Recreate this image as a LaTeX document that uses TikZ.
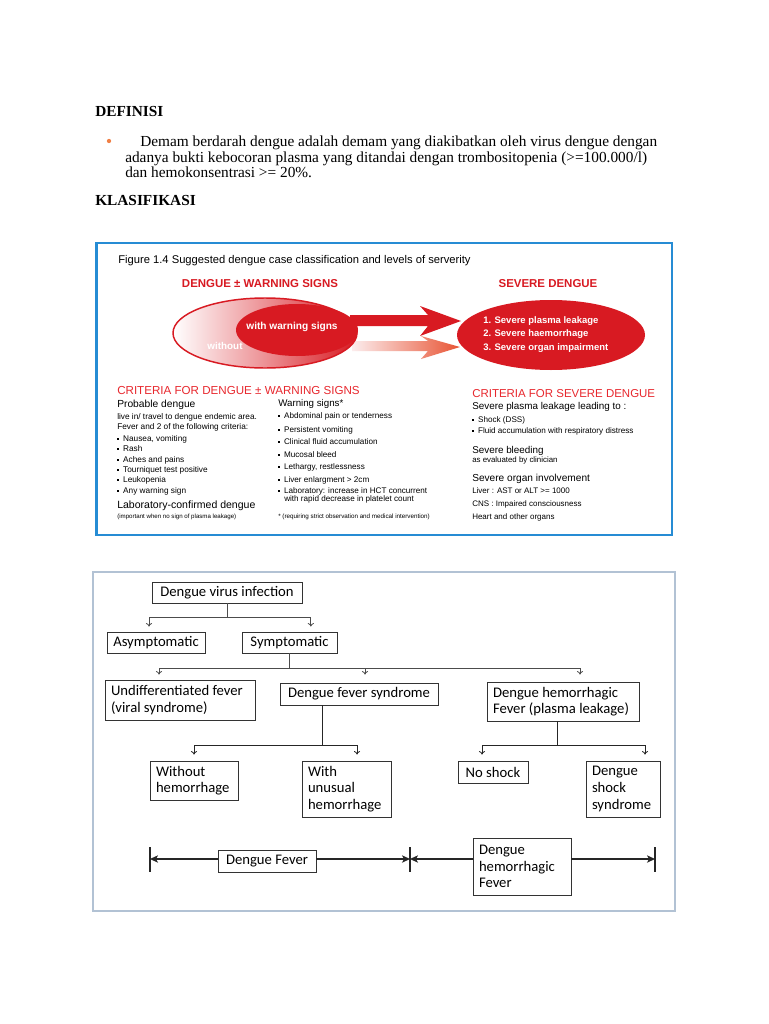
\documentclass[tikz,border=0pt]{standalone}
\usepackage{fontspec}
\usepackage{tikz}
\usetikzlibrary{arrows.meta}
\setmainfont{Liberation Serif}
\newfontfamily\figfont{Liberation Sans}
\newfontfamily\boxfont{Carlito}
\definecolor{dred}{RGB}{216,26,34}
\definecolor{cred}{RGB}{232,40,46}
\definecolor{ored}{RGB}{232,84,52}
\definecolor{figblue}{RGB}{38,140,212}
\definecolor{framegray}{RGB}{178,194,212}
\definecolor{dotorange}{RGB}{240,128,70}
\newcommand\blt{\rule[0.25ex]{0.5ex}{0.5ex}\hspace{0.45em}}

\begin{document}
\begin{tikzpicture}[x=0.75pt,y=-0.75pt,
  txt/.style={anchor=base west,inner sep=0pt,font=\fontsize{11.5}{11.5}\selectfont},
  fig/.style={anchor=base west,inner sep=0pt,font=\figfont\fontsize{#1}{#1}\selectfont},
  figb/.style={fig=#1,font=\figfont\bfseries\fontsize{#1}{#1}\selectfont},
  box/.style={draw=black!80,line width=0.7pt,inner xsep=4.5pt,inner ysep=0pt,
    font=\boxfont\fontsize{11}{12.5}\selectfont},
  downarr/.style={draw=black!70,line width=0.6pt,-{To[length=2.6pt,width=4.6pt]}},
  rangearr/.style={draw=black!85,line width=0.8pt,-{Stealth[length=6pt,width=5.5pt,inset=1.5pt]}}]
  \useasboundingbox (0,0) rectangle (768,1024);
  \fill[white] (0,0) rectangle (768,1024);

  \node[txt,font=\bfseries\fontsize{11.5}{11.5}\selectfont] (defhead) at (95,116) {DEFINISI};
  \fill[dotorange] (109,141) circle (1.6pt);
  \node[txt] (defa) at (140,146) {Demam berdarah dengue adalah demam yang diakibatkan oleh virus dengue dengan};
  \node[txt] (defb) at (125,162) {adanya bukti kebocoran plasma yang ditandai dengan trombositopenia (>=100.000/l)};
  \node[txt] (defc) at (125,177) {dan hemokonsentrasi >= 20\%.};
  \node[txt,font=\bfseries\fontsize{11.5}{11.5}\selectfont] (klashead) at (95,205) {KLASIFIKASI};

  \draw[figblue,line width=1.8pt] (96,243) rectangle (672,535);
  \draw[figblue,line width=1.2pt] (97.5,243) -- (97.5,535);
  \node[fig=8.4] (figcap) at (118,263) {Figure 1.4 Suggested dengue case classification and levels of serverity};
  \node[figb=8.6,text=dred,anchor=base] (dwhead) at (260,287) {DENGUE ± WARNING SIGNS};
  \node[figb=8.6,text=dred,anchor=base] (sdhead) at (548,287) {SEVERE DENGUE};

  \fill[dred] (350,315) -- (428,315) -- (420,306) -- (461,321) -- (420,336) -- (428,326) -- (350,326) -- cycle;
  \shade[left color=dred!8,right color=ored] (352,341) -- (428,341) -- (421,336) -- (460,347) -- (421,359) -- (428,351) -- (352,351) -- cycle;
  \shade[left color=white,right color=dred,middle color=dred!48] (265,333) ellipse [x radius=69pt,y radius=26.25pt];
  \draw[dred,line width=1.1pt] (265,333) ellipse [x radius=69pt,y radius=26.25pt];
  \fill[dred] (297,330) ellipse [x radius=45.75pt,y radius=19.5pt];
  \fill[dred] (551,335) ellipse [x radius=70.5pt,y radius=26.25pt];
  \node[figb=7.6,text=white,anchor=center] (wws) at (292,327) {with warning signs};
  \node[figb=7.4,text=white,anchor=center] (wo) at (225,346) {without};
  \node[figb=7.1,text=white] (sda) at (483,323) {1. Severe plasma leakage};
  \node[figb=7.1,text=white] (sdb) at (483,336) {2. Severe haemorrhage};
  \node[figb=7.1,text=white] (sdc) at (483,350) {3. Severe organ impairment};

  \node[fig=8.7,text=cred] (critdw) at (117,394) {CRITERIA FOR DENGUE ± WARNING SIGNS};
  \node[fig=7.7] (prob) at (117,407) {Probable dengue};
  \node[fig=6.2] (live) at (117,419) {live in/ travel to dengue endemic area.};
  \node[fig=6.2] (fevcrit) at (117,429) {Fever and 2 of the following criteria:};
  \node[fig=6.2] (pna) at (117,441) {\blt Nausea, vomiting};
  \node[fig=6.2] (pnb) at (117,451) {\blt Rash};
  \node[fig=6.2] (pnc) at (117,462) {\blt Aches and pains};
  \node[fig=6.2] (pnd) at (117,472) {\blt Tourniquet test positive};
  \node[fig=6.2] (pne) at (117,482) {\blt Leukopenia};
  \node[fig=6.2] (pnf) at (117,493) {\blt Any warning sign};
  \node[fig=7.9] (labconf) at (117,508) {Laboratory-confirmed dengue};
  \node[fig=4.6] (imp) at (117,518) {(important when no sign of plasma leakage)};

  \node[fig=7.3] (warn) at (278,406) {Warning signs*};
  \node[fig=6.1] (wsa) at (278,418) {\blt Abdominal pain or tenderness};
  \node[fig=6.1] (wsb) at (278,432) {\blt Persistent vomiting};
  \node[fig=6.1] (wsc) at (278,444) {\blt Clinical fluid accumulation};
  \node[fig=6.1] (wsd) at (278,457) {\blt Mucosal bleed};
  \node[fig=6.1] (wse) at (278,469) {\blt Lethargy, restlessness};
  \node[fig=6.1] (wsf) at (278,482) {\blt Liver enlargment > 2cm};
  \node[fig=6.1] (wsg) at (278,493) {\blt Laboratory: increase in HCT concurrent};
  \node[fig=6.1] (wsh) at (284,501) {with rapid decrease in platelet count};
  \node[fig=4.7] (req) at (278,518) {* (requiring strict observation and medical intervention)};

  \node[fig=8.6,text=cred] (critsd) at (472,397) {CRITERIA FOR SEVERE DENGUE};
  \node[fig=7.4] (spl) at (472,409) {Severe plasma leakage leading to :};
  \node[fig=6.1] (shock) at (472,422) {\blt Shock (DSS)};
  \node[fig=6.1] (fluid) at (472,433) {\blt Fluid accumulation with respiratory distress};
  \node[fig=7.4] (sbleed) at (472,453) {Severe bleeding};
  \node[fig=5.9] (evald) at (472,462) {as evaluated by clinician};
  \node[fig=7.6] (sorg) at (472,481) {Severe organ involvement};
  \node[fig=6] (liver) at (472,493) {Liver : AST or ALT >= 1000};
  \node[fig=6] (cns) at (472,506) {CNS : Impaired consciousness};
  \node[fig=6] (heart) at (472,519) {Heart and other organs};

  \draw[framegray,line width=0.9pt] (93,572) rectangle (675,911);
  \node[box,minimum width=112.5pt,minimum height=15.75pt] (dvi) at (227,592.5) {Dengue virus infection};
  \node[box,minimum width=73.5pt,minimum height=15.75pt] (asym) at (156,642.5) {Asymptomatic};
  \node[box,minimum width=71.25pt,minimum height=15.75pt] (sym) at (289.5,642.5) {Symptomatic};
  \node[box,text width=103.5pt,minimum height=30pt,align=flush left] (undiff) at (180,700) {Undifferentiated fever\\(viral syndrome)};
  \node[box,minimum width=118.5pt,minimum height=16.5pt] (dfs) at (359,694) {Dengue fever syndrome};
  \node[box,text width=105pt,minimum height=29.25pt,align=flush left] (dhf) at (563,701.5) {Dengue hemorrhagic\\Fever (plasma leakage)};
  \node[box,text width=57pt,minimum height=29.25pt,align=flush left] (woh) at (194,780.5) {Without\\hemorrhage};
  \node[box,text width=57.75pt,minimum height=42pt,align=flush left] (wuh) at (346.5,789) {With\\unusual\\hemorrhage};
  \node[box,minimum width=52.5pt,minimum height=16.5pt] (nos) at (493,772) {No shock};
  \node[box,text width=46.5pt,minimum height=42pt,align=flush left] (dss) at (623,789) {Dengue\\shock\\syndrome};
  \node[box,minimum width=73.5pt,minimum height=16.5pt] (df) at (267,861) {Dengue Fever};
  \node[box,text width=64.5pt,minimum height=42.75pt,align=flush left] (dhfl) at (522,866.5) {Dengue\\hemorrhagic\\Fever};

  \draw[black!70,line width=0.6pt] (dvi.south) -- ++(0,14) coordinate (ja);
  \draw[downarr] (ja) -| ([xshift=-5.25pt,yshift=3.75pt]asym.north);
  \draw[downarr] (ja) -| ([xshift=16pt,yshift=3.75pt]sym.north);
  \draw[black!70,line width=0.6pt] (sym.south) -- ++(0,15) coordinate (jb);
  \draw[downarr] (jb) -| ([xshift=-15.75pt,yshift=3.75pt]undiff.north);
  \draw[downarr] (jb) -| ([xshift=4.5pt,yshift=6pt]dfs.north);
  \draw[downarr] (jb) -| ([xshift=12.75pt,yshift=5.25pt]dhf.north);
  \draw[black!85,line width=0.7pt] ([xshift=-27.75pt]dfs.south) -- ++(0,40) coordinate (jc);
  \draw[downarr,black!85] (jc) -| ([yshift=4.5pt]woh.north);
  \draw[downarr,black!85] (jc) -| ([xshift=7.9pt,yshift=4.5pt]wuh.north);
  \draw[black!85,line width=0.7pt] ([xshift=-4.5pt]dhf.south) -- ++(0,24) coordinate (jd);
  \draw[downarr,black!85] (jd) -| ([xshift=-8.25pt,yshift=4.5pt]nos.north);
  \draw[downarr,black!85] (jd) -| ([xshift=16.5pt,yshift=4.5pt]dss.north);

  \coordinate (barl) at (150,859);
  \coordinate (barm) at (410,859);
  \coordinate (barr) at (655,859);
  \draw[black!85,line width=0.9pt] ([yshift=9pt]barl) -- ([yshift=-9.75pt]barl);
  \draw[black!85,line width=0.9pt] ([yshift=9pt]barm) -- ([yshift=-9.75pt]barm);
  \draw[black!85,line width=0.9pt] ([yshift=9pt]barr) -- ([yshift=-9.75pt]barr);
  \draw[rangearr] (barl -| df.west) -- (barl);
  \draw[rangearr] (barm -| df.east) -- (barm);
  \draw[rangearr] (barm -| dhfl.west) -- (barm);
  \draw[rangearr] (barr -| dhfl.east) -- (barr);
\end{tikzpicture}
\end{document}
